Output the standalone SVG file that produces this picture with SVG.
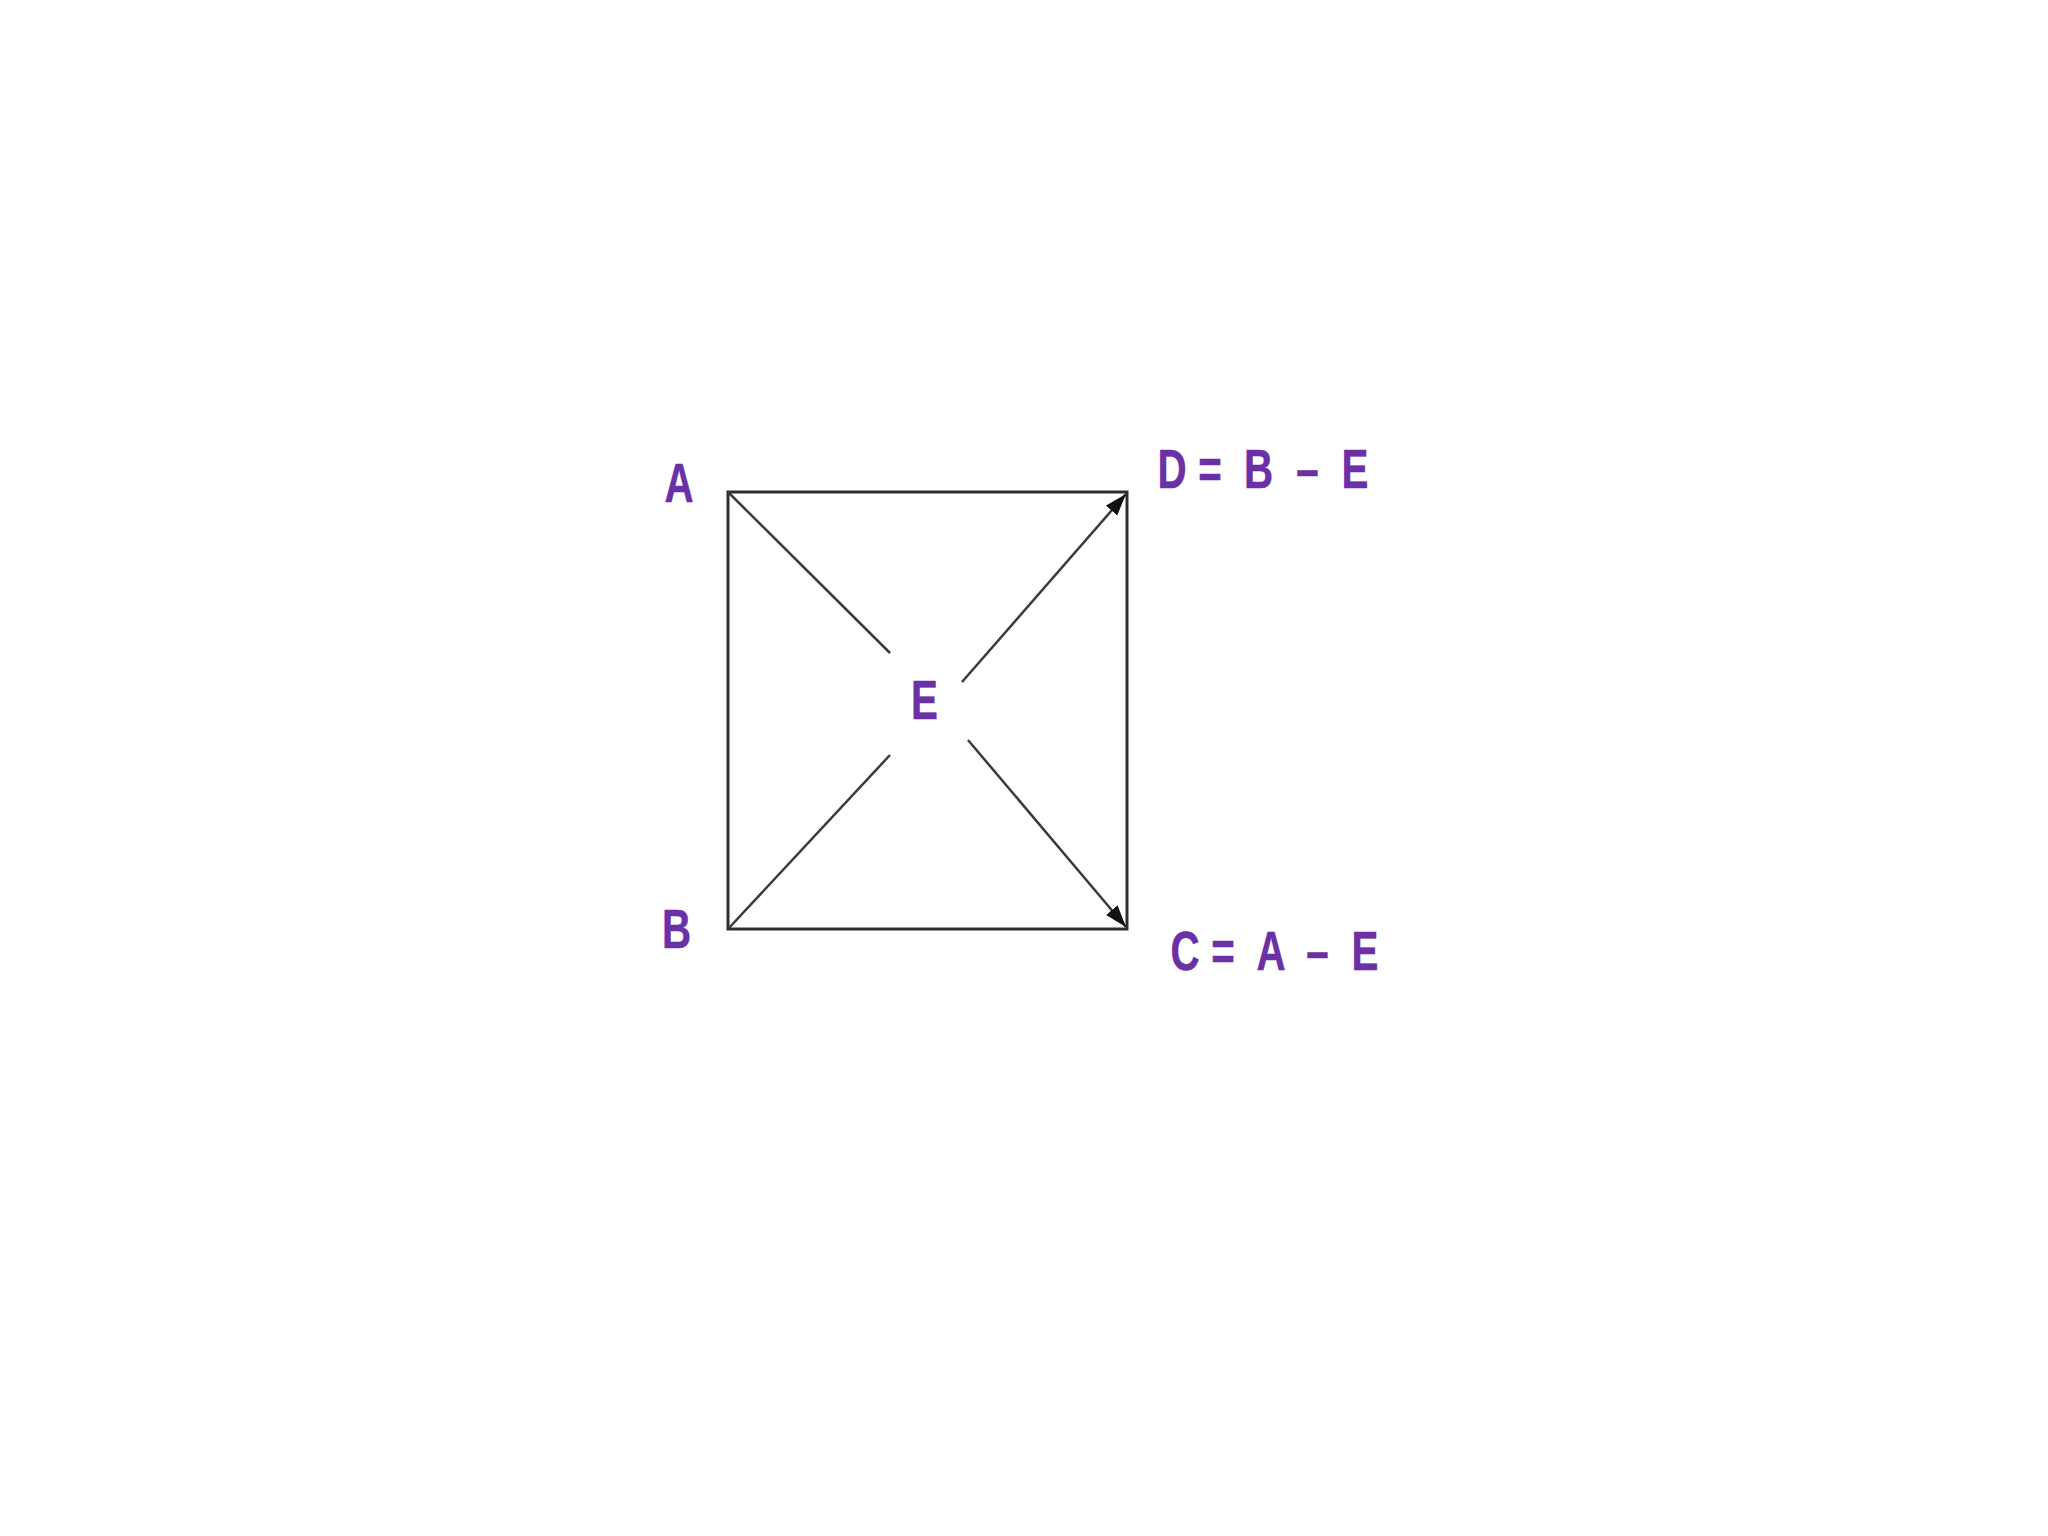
<svg xmlns="http://www.w3.org/2000/svg" width="2048" height="1536" viewBox="0 0 2048 1536">
<style>
.lbl{font-family:"Liberation Sans",Arial,sans-serif;font-weight:bold;font-size:56px;fill:#6b2fa6;stroke:#6b2fa6;stroke-width:0.5;text-anchor:middle}
.edge{stroke:#3a3a3a;stroke-width:2.5;fill:none}
.frame{stroke:#2e2e2e;stroke-width:3;fill:none}
</style>
<defs>
<marker id="arr" markerUnits="userSpaceOnUse" markerWidth="24" markerHeight="16" refX="22" refY="7.5" orient="auto">
<path d="M0,0 L22,7.5 L0,15 z" fill="#111"/>
</marker>
</defs>
<rect width="2048" height="1536" fill="#ffffff"/>
<g id="square">
<rect class="frame" x="728" y="492" width="399" height="437"/>
</g>
<g id="connectors">
<line class="edge" x1="728" y1="492" x2="890" y2="653"/>
<line class="edge" x1="728" y1="929" x2="890" y2="755"/>
<line class="edge" x1="962" y1="682" x2="1126" y2="494" marker-end="url(#arr)"/>
<line class="edge" x1="968" y1="740" x2="1126" y2="927" marker-end="url(#arr)"/>
</g>
<g id="node-A" transform="scale(0.72 1)">
<text class="lbl" x="943" y="502">A</text>
</g>
<g id="node-B" transform="scale(0.72 1)">
<text class="lbl" x="939.6" y="948">B</text>
</g>
<g id="node-E" transform="scale(0.72 1)">
<text class="lbl" x="1284" y="719">E</text>
</g>
<g id="node-D" transform="scale(0.72 1)">
<text class="lbl" y="488"><tspan x="1627.8">D</tspan><tspan x="1680.6">=</tspan><tspan x="1747.9">B</tspan><tspan x="1816">–</tspan><tspan x="1881.9">E</tspan></text>
</g>
<g id="node-C" transform="scale(0.72 1)">
<text class="lbl" y="970"><tspan x="1645.8">C</tspan><tspan x="1698.6">=</tspan><tspan x="1765.3">A</tspan><tspan x="1829.9">–</tspan><tspan x="1895.8">E</tspan></text>
</g>
</svg>
